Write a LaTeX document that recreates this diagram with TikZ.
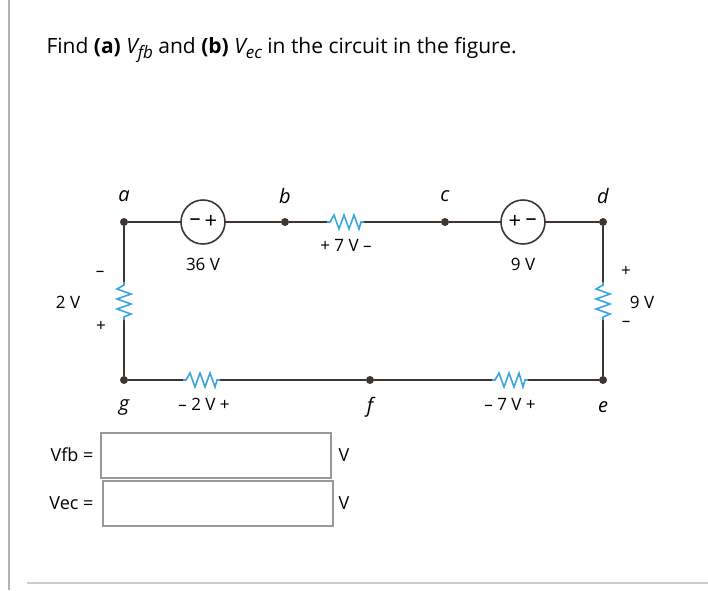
\documentclass[tikz,border=0pt]{standalone}
\usepackage{fontspec}
\setmainfont{Open Sans}
\definecolor{wire}{HTML}{3F3530}
\definecolor{res}{HTML}{3AA6DD}
\begin{document}
\begin{tikzpicture}[x=1pt,y=-1pt,
  w/.style={draw=wire,line width=1.8pt},
  dot/.style={circle,fill=wire,inner sep=0pt,minimum size=8pt},
  src/.style={circle,draw=wire,line width=1.6pt,minimum size=44pt,inner sep=0pt,fill=white},
  zz/.style={draw=res,line width=1.6pt},
  lab/.style={font=\fontsize{17}{17}\selectfont},
  it/.style={font=\fontsize{20}{20}\selectfont\rmfamily\itshape},
  box/.style={draw=gray!80,line width=1.2pt}]
\useasboundingbox (0,0) rectangle (708,590);
\fill[white] (0,0) rectangle (708,590);
\draw[gray!60,line width=1.5pt] (9,0) -- (9,590);
\draw[gray!40,line width=1.2pt] (27,583) -- (708,583);
\node[anchor=west,font=\fontsize{21}{21}\selectfont] (t) at (43,50) {Find \textbf{(a)} \textit{V\raisebox{-0.4ex}{\fontsize{17}{17}\selectfont fb}} and \textbf{(b)} \textit{V\raisebox{-0.4ex}{\fontsize{17}{17}\selectfont ec}} in the circuit in the figure.};
% nodes
\node[dot] (a) at (124,222) {};
\node[dot] (b) at (285,222) {};
\node[dot] (c) at (445,222) {};
\node[dot] (d) at (603,222) {};
\node[dot] (e) at (603,380) {};
\node[dot] (f) at (370,380) {};
\node[dot] (g) at (124,380) {};
\coordinate (r1a) at (327,222); \coordinate (r1b) at (364,222);
\coordinate (r2a) at (124,282); \coordinate (r2b) at (124,320);
\coordinate (r3a) at (603,282); \coordinate (r3b) at (603,320);
\coordinate (r4a) at (183,380); \coordinate (r4b) at (220,380);
\coordinate (r5a) at (492,380); \coordinate (r5b) at (528,380);
\draw[w] (a) -- (b) -- (r1a); \draw[w] (r1b) -- (c) -- (d) -- (r3a);
\draw[w] (r3b) -- (e) -- (r5b); \draw[w] (r5a) -- (f) -- (r4b);
\draw[w] (r4a) -- (g) -- (r2b); \draw[w] (r2a) -- (a);
\node[src] (s1) at (203,222) {}; \node[src] (s2) at (523,222) {};
\node[font=\fontsize{22}{22}\selectfont] at ([xshift=-8pt]s1) {\textendash}; \node[font=\fontsize{22}{22}\selectfont] at ([xshift=8pt]s1) {+};
\node[font=\fontsize{22}{22}\selectfont] at ([xshift=-8pt]s2) {+}; \node[font=\fontsize{22}{22}\selectfont] at ([xshift=8pt]s2) {\textendash};
% zigzags
\draw[zz] (r1a) -- ++(3,0) -- ++(4,-7) -- ++(5,14) -- ++(5,-14) -- ++(5,14) -- ++(5,-14) -- ++(5,14) -- ++(2,-7) -- (r1b);
\draw[zz] (r4a) -- ++(3,0) -- ++(4,-7) -- ++(5,14) -- ++(5,-14) -- ++(5,14) -- ++(5,-14) -- ++(5,14) -- ++(2,-7) -- (r4b);
\draw[zz] (r5a) -- ++(3,0) -- ++(4,-7) -- ++(5,14) -- ++(5,-14) -- ++(5,14) -- ++(5,-14) -- ++(4,14) -- ++(2,-7) -- (r5b);
\draw[zz] (r2a) -- ++(0,3) -- ++(-7,4) -- ++(14,5) -- ++(-14,5) -- ++(14,5) -- ++(-14,5) -- ++(14,5) -- ++(-7,3) -- (r2b);
\draw[zz] (r3a) -- ++(0,3) -- ++(-7,4) -- ++(14,5) -- ++(-14,5) -- ++(14,5) -- ++(-14,5) -- ++(14,5) -- ++(-7,3) -- (r3b);
% labels
\node[it] at (124,196) {a};
\node[it] at (285,196) {b};
\node[it] at (445,196) {c};
\node[it] at (603,196) {d};
\node[it] at (603,407) {e};
\node[it] at (370,407) {f};
\node[it] at (124,407) {g};
\node[lab] at (203,264) {36 V};
\node[lab] at (523,264) {9 V};
\node[lab] at (346,245) {+ 7 V \textendash};
\node[lab] at (204,404) {\textendash{} 2 V +};
\node[lab] at (510,404) {\textendash{} 7 V +};
\node[lab] at (68,302) {2 V};
\node[lab] at (100,274) {\textendash};
\node[lab] at (101,326) {+};
\node[lab] at (642,302) {9 V};
\node[lab] at (626,271) {+};
\node[lab] at (626,324) {\textendash};
% answer boxes
\node[font=\fontsize{18}{18}\selectfont,anchor=east] (l1) at (97,455) {Vfb =};
\node[font=\fontsize{18}{18}\selectfont,anchor=east] (l2) at (97,503) {Vec =};
\draw[box] (101,433) rectangle (331,478);
\draw[box] (103,481) rectangle (333,526);
\node[font=\fontsize{18}{18}\selectfont] (v1) at (344,455) {V};
\node[font=\fontsize{18}{18}\selectfont] (v2) at (344,503) {V};
\end{tikzpicture}
\end{document}
